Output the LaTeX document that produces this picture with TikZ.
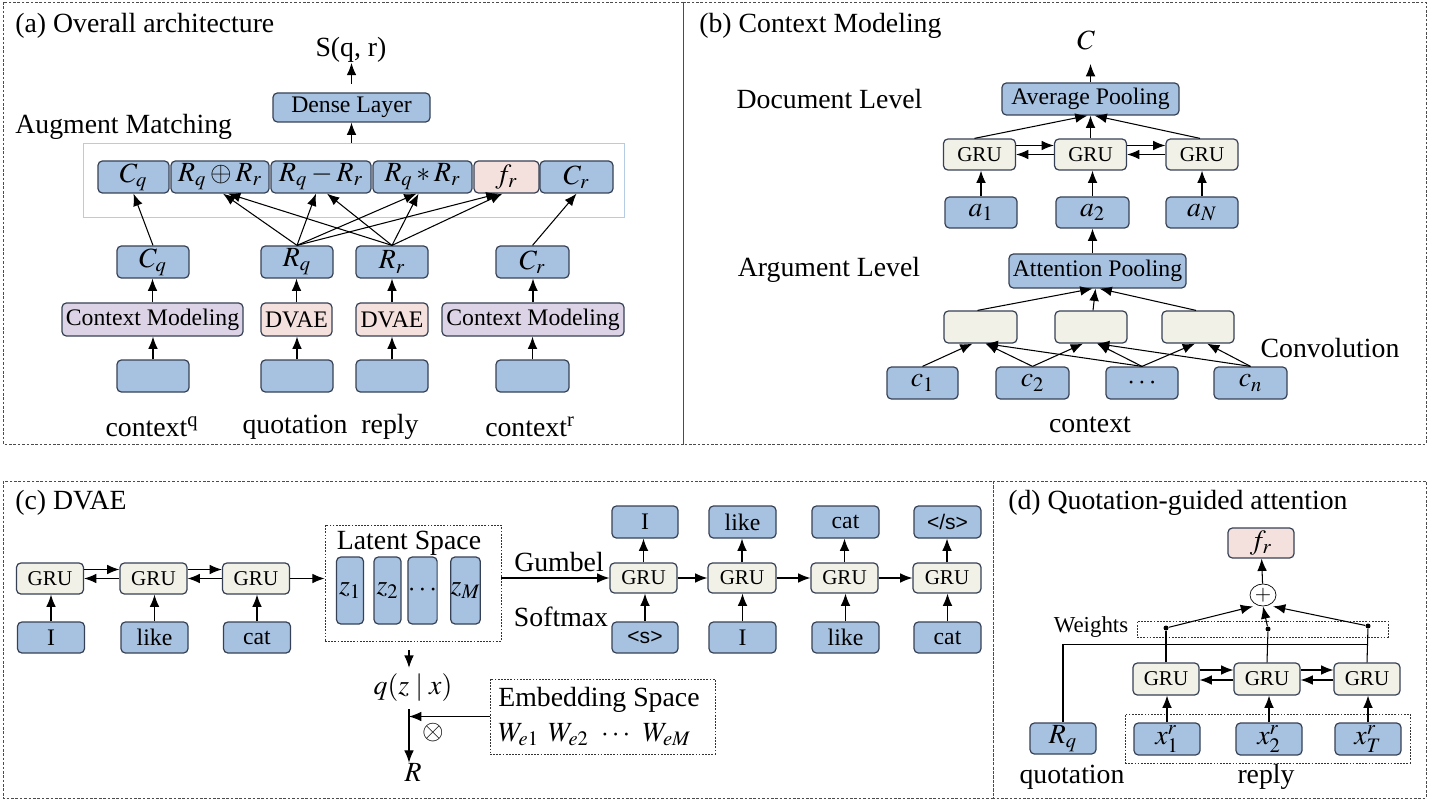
\documentclass[tikz,border=0pt]{standalone}
\usepackage{mathptmx}
\usepackage{fontspec}
\setmainfont{Liberation Serif}
\newfontfamily\arialf{Liberation Sans}
\usetikzlibrary{arrows.meta}
\usetikzlibrary{calc}
\usetikzlibrary{shapes.geometric}
\definecolor{blu}{RGB}{167,194,224}
\definecolor{bord}{RGB}{55,65,85}
\definecolor{beig}{RGB}{242,241,232}
\definecolor{pnk}{RGB}{244,225,221}
\definecolor{lav}{RGB}{220,212,230}
\definecolor{augb}{RGB}{180,205,228}
\tikzset{
wd/.style={minimum width=#1*0.02cm},
ht/.style={minimum height=#1*0.02cm},
blk/.style={draw=bord, fill=blu, rounded corners=2.5pt, inner sep=0pt, line width=0.7pt, font=\fontsize{13.5}{15}\selectfont},
gru/.style={blk, fill=beig, font=\fontsize{12}{14}\selectfont},
lbl/.style={inner sep=0pt, font=\fontsize{15.8}{18}\selectfont},
mth/.style={font=\fontsize{15.8}{18}\selectfont},
arr/.style={-{Latex[length=7pt,width=5.5pt]}, line width=0.6pt},
panel/.style={draw=black!70, dash pattern=on 1.5pt off 1pt, line width=0.5pt},
dotbox/.style={draw=black!80, dash pattern=on 1pt off 0.8pt, line width=0.5pt, inner sep=0pt},
dotn/.style={circle, fill=black, inner sep=0pt, minimum size=5*0.02cm},
}

\begin{document}
\begin{tikzpicture}[x=0.02cm, y=-0.02cm]
\useasboundingbox (0,0) rectangle (1429,800);
\draw[panel] (3,2) rectangle (683,444);
\draw[panel] (683,2) rectangle (1426,444);
\draw[panel] (3,481) rectangle (993,798);
\draw[panel] (993,481) rectangle (1426,798);

\node[lbl, anchor=west] (ta) at (15,26) {(a) Overall architecture};
\node[lbl] (sqr) at (351,50) {S(q, r)};
\node[blk, wd=157, ht=29] (dense) at (351.5,107.5) {Dense Layer};
\node[lbl, anchor=west] (augt) at (15,127) {Augment Matching};
\node[draw=augb, line width=0.5pt, inner sep=0pt, wd=541, ht=74] (aug) at (353.5,180) {};
\node[blk, mth, wd=71, ht=32] (cq) at (133.5,177) {$C_q$};
\node[blk, mth, wd=98, ht=32] (rpr) at (220,177) {$R_q \oplus R_r$};
\node[blk, mth, wd=100, ht=32] (rmr) at (321,177) {$R_q - R_r$};
\node[blk, mth, wd=99, ht=32] (rtr) at (422.5,177) {$R_q * R_r$};
\node[blk, mth, fill=pnk, wd=65, ht=32] (fr) at (506.5,177) {$f_r$};
\node[blk, mth, wd=73, ht=32] (cr) at (576.5,177) {$C_r$};
\node[blk, mth, wd=72, ht=32] (cqb) at (153,262) {$C_q$};
\node[blk, mth, wd=72, ht=32] (rqb) at (297,262) {$R_q$};
\node[blk, mth, wd=72, ht=32] (rrb) at (392,262) {$R_r$};
\node[blk, mth, wd=73, ht=32] (crb) at (532.5,262) {$C_r$};
\node[blk, fill=lav, wd=181, ht=33] (cm1) at (152.5,319.5) {Context Modeling};
\node[blk, fill=pnk, wd=71, ht=33] (dv1) at (296.5,319.5) {DVAE};
\node[blk, fill=pnk, wd=72, ht=33] (dv2) at (392,319.5) {DVAE};
\node[blk, fill=lav, wd=182, ht=33] (cm2) at (533,319.5) {Context Modeling};
\node[blk, wd=72, ht=32] (in1) at (153,376) {};
\node[blk, wd=72, ht=32] (in2) at (297,376) {};
\node[blk, wd=72, ht=32] (in3) at (392,376) {};
\node[blk, wd=73, ht=32] (in4) at (532.5,376) {};
\node[lbl] (ctxq) at (152,427) {context\textsuperscript{q}};
\node[lbl] (quot) at (295,427) {quotation};
\node[lbl] (rep) at (390,427) {reply};
\node[lbl] (ctxr) at (530,427) {context\textsuperscript{r}};
\draw[arr, shorten <=5pt] (dense.north) -- (dense.north |- sqr.south);
\draw[arr] (aug.north -| dense) -- (dense);
\foreach \a/\b in {in1/cm1, cm1/cqb, in2/dv1, dv1/rqb, in3/dv2, dv2/rrb, in4/cm2, cm2/crb}
  \draw[arr] (\a.north) -- (\a.north |- \b.south);
\draw[arr] (cqb.north) -- (cq.south);
\draw[arr] (crb.north) -- (cr.south);
\draw[arr] (rqb.north) -- ($(rpr.south)+(3,0)$);
\draw[arr] (rqb.north) -- ($(rmr.south)+(-5,0)$);
\draw[arr] (rqb.north) -- ($(rtr.south)+(-6,0)$);
\draw[arr] (rqb.north) -- ($(fr.south)+(-8,0)$);
\draw[arr] (rrb.north) -- ($(rpr.south)+(8,0)$);
\draw[arr] (rrb.north) -- ($(rmr.south)+(6,0)$);
\draw[arr] (rrb.north) -- ($(rtr.south)+(-4,0)$);
\draw[arr] (rrb.north) -- ($(fr.south)+(-4,0)$);

\node[lbl, anchor=west] (tb) at (699,26) {(b) Context Modeling};
\node[lbl] (cc) at (1086,40) {$C$};
\node[blk, wd=177, ht=32] (avg) at (1090.5,99) {Average Pooling};
\node[lbl] (docl) at (829.5,99) {Document Level};
\node[gru, wd=72, ht=31] (g1) at (979.5,154.5) {GRU};
\node[gru, wd=72, ht=31] (g2) at (1090.5,154.5) {GRU};
\node[gru, wd=72, ht=31] (g3) at (1202,154.5) {GRU};
\node[blk, mth, wd=72, ht=31] (a1) at (981,212.5) {$a_1$};
\node[blk, mth, wd=73, ht=31] (a2) at (1092.5,212.5) {$a_2$};
\node[blk, mth, wd=72, ht=31] (an) at (1202,212.5) {$a_N$};
\node[blk, wd=177, ht=34] (att) at (1097.5,271) {Attention Pooling};
\node[lbl] (argl) at (829,270) {Argument Level};
\node[gru, wd=73, ht=32] (v1) at (980.5,327) {};
\node[gru, wd=72, ht=32] (v2) at (1091,327) {};
\node[gru, wd=72, ht=32] (v3) at (1198,327) {};
\node[lbl] (conv) at (1330,348) {Convolution};
\node[blk, mth, wd=71, ht=32] (c1) at (922.5,383) {$c_1$};
\node[blk, mth, wd=73, ht=32] (c2) at (1032.5,383) {$c_2$};
\node[blk, mth, wd=72, ht=32] (c3) at (1142,383) {$\cdots$};
\node[blk, mth, wd=73, ht=32] (cn) at (1250.5,383) {$c_n$};
\node[lbl] (ctx) at (1090,425) {context};
\draw[arr, shorten >=8pt] (avg.north) -- (avg.north |- cc.south);
\draw[arr] ($(g1.north)+(-5,0)$) -- ($(avg.south)+(-3,0)$);
\draw[arr] (g2.north) -- (g2.north |- avg.south);
\draw[arr] ($(g3.north)+(-2,0)$) -- ($(avg.south)+(4,0)$);
\draw[arr] ($(g1.east)+(0,-9)$) -- ($(g2.west)+(0,-9)$);
\draw[arr] (g2.west) -- (g1.east);
\draw[arr] ($(g2.east)+(0,-9)$) -- ($(g3.west)+(0,-9)$);
\draw[arr] (g3.west) -- (g2.east);
\draw[arr] (a1.north) -- (a1.north |- g1.south);
\draw[arr] (a2.north) -- (a2.north |- g2.south);
\draw[arr] (an.north) -- (an.north |- g3.south);
\draw[arr] (a2.south |- att.north) -- (a2.south);
\draw[arr] ($(v1.north)+(-3,0)$) -- ($(att.south)+(-5,0)$);
\draw[arr] ($(v2.north)+(2,0)$) -- ($(att.south)+(-2,0)$);
\draw[arr] ($(v3.north)+(-2,0)$) -- ($(att.south)+(2,0)$);
\draw[arr] (c1.north) -- ($(v1.south)+(-8,0)$);
\draw[arr] (c2.north) -- ($(v1.south)+(5,0)$);
\draw[arr] (c3.north) -- ($(v1.south)+(5,0)$);
\draw[arr] (c2.north) -- ($(v2.south)+(-8,0)$);
\draw[arr] (c3.north) -- ($(v2.south)+(6,0)$);
\draw[arr] (cn.north) -- ($(v2.south)+(6,0)$);
\draw[arr] (c3.north) -- ($(v3.south)+(-3,0)$);
\draw[arr] (cn.north) -- ($(v3.south)+(9,0)$);

\node[lbl, anchor=west] (tc) at (15,503) {(c) DVAE};
\node[gru, wd=67, ht=31] (e1) at (50,578.5) {GRU};
\node[gru, wd=67, ht=31] (e2) at (153.5,578.5) {GRU};
\node[gru, wd=67, ht=31] (e3) at (256,578.5) {GRU};
\node[blk, wd=67, ht=31] (i1) at (51,637.5) {I};
\node[blk, wd=67, ht=31] (i2) at (154.5,637.5) {like};
\node[blk, wd=67, ht=31] (i3) at (257,637.5) {cat};
\node[dotbox, wd=176, ht=116] (lat) at (413,583) {};
\node[lbl] (latt) at (409,543) {Latent Space};
\node[blk, mth, wd=27, ht=67] (z1) at (350,590.5) {$z_1$};
\node[blk, mth, wd=27, ht=67] (z2) at (387.5,590.5) {$z_2$};
\node[blk, mth, wd=27, ht=67] (z3) at (422.5,590.5) {$\cdots$};
\node[blk, mth, wd=27, ht=67] (zm) at (465.5,590.5) {$z_M$};
\node[lbl] (gumb) at (559,562) {Gumbel};
\node[lbl] (soft) at (561,617) {Softmax};
\node[gru, wd=67, ht=30] (d1) at (643.5,578) {GRU};
\node[gru, wd=68, ht=30] (d2) at (742,578) {GRU};
\node[gru, wd=67, ht=30] (d3) at (844.5,578) {GRU};
\node[gru, wd=68, ht=30] (d4) at (947,578) {GRU};
\node[blk, wd=66, ht=32] (o1) at (645,522) {I};
\node[blk, wd=67, ht=32] (o2) at (742.5,522) {like};
\node[blk, wd=67, ht=32] (o3) at (845.5,522) {cat};
\node[blk, wd=67, ht=32] (o4) at (947.5,522) {\arialf\fontsize{12}{14}\selectfont </s>};
\node[blk, wd=66, ht=31] (n1) at (645,637.5) {\arialf\fontsize{12}{14}\selectfont <s>};
\node[blk, wd=67, ht=31] (n2) at (742.5,637.5) {I};
\node[blk, wd=67, ht=31] (n3) at (845.5,637.5) {like};
\node[blk, wd=67, ht=31] (n4) at (947.5,637.5) {cat};
\node[lbl] (qzx) at (413,688) {$q(z \mid x)$};
\node[lbl] (rr) at (413,772) {$R$};
\node[dotbox, wd=225, ht=75] (emb) at (602.5,716.5) {};
\node[lbl, anchor=west] (embt) at (498,700) {Embedding Space};
\node[lbl, anchor=west] (embw) at (498,735) {$W_{e1}\;\, W_{e2}\;\, \cdots\;\, W_{eM}$};
\node[lbl] (otm) at (433,733) {$\otimes$};
\coordinate (qd) at ($(qzx.south)+(-4,0)$);
\draw[arr] ($(e1.east)+(0,-9)$) -- ($(e2.west)+(0,-9)$);
\draw[arr] (e2.west) -- (e1.east);
\draw[arr] ($(e2.east)+(0,-9)$) -- ($(e3.west)+(0,-9)$);
\draw[arr] (e3.west) -- (e2.east);
\draw[arr] (i1.north) -- (i1.north |- e1.south);
\draw[arr] (i2.north) -- (i2.north |- e2.south);
\draw[arr] (i3.north) -- (i3.north |- e3.south);
\draw[arr] (e3) -- (e3 -| lat.west);
\draw[arr] (lat.east |- d1) -- (d1);
\draw[arr] (d1) -- (d2);
\draw[arr] (d2) -- (d3);
\draw[arr] (d3) -- (d4);
\draw[arr] (d1.north) -- (d1.north |- o1.south);
\draw[arr] (d2.north) -- (d2.north |- o2.south);
\draw[arr] (d3.north) -- (d3.north |- o3.south);
\draw[arr] (d4.north) -- (d4.north |- o4.south);
\draw[arr] (n1.north) -- (n1.north |- d1.south);
\draw[arr] (n2.north) -- (n2.north |- d2.south);
\draw[arr] (n3.north) -- (n3.north |- d3.south);
\draw[arr] (n4.north) -- (n4.north |- d4.south);
\draw[arr] ($(lat.south)+(-4,9)$) -- ($(qzx.north)+(-4,-6)$);
\draw[arr, shorten <=4pt] (qd) -- (qd |- rr.north);
\draw[arr] (emb.west) -- (emb.west -| qd);

\node[lbl, anchor=west] (tdd) at (1008,503) {(d) Quotation-guided attention};
\node[blk, mth, fill=pnk, wd=66, ht=30] (fr2) at (1261,543) {$f_r$};
\node[draw, ellipse, inner sep=0pt, wd=26, ht=22, font=\fontsize{12}{14}\selectfont] (plus) at (1263,595) {$+$};
\node[dotbox, wd=251, ht=16] (wts) at (1262.5,629) {};
\node[inner sep=0pt, font=\fontsize{13}{15}\selectfont] (wtst) at (1091,627) {Weights};
\node[dotn] (w1) at (1166,628) {};
\node[dotn] (w2) at (1268,629) {};
\node[dotn] (w3) at (1368,626) {};
\node[gru, wd=66, ht=32] (q1) at (1166,679) {GRU};
\node[gru, wd=66, ht=32] (q2) at (1267,679) {GRU};
\node[gru, wd=66, ht=32] (q3) at (1367,679) {GRU};
\node[dotbox, wd=285, ht=49] (repb) at (1267.5,738.5) {};
\node[blk, mth, wd=66, ht=32] (x1) at (1167,739) {$x_1^r$};
\node[blk, mth, wd=66, ht=32] (x2) at (1269,739) {$x_2^r$};
\node[blk, mth, wd=66, ht=32] (x3) at (1368,739) {$x_T^r$};
\node[blk, mth, wd=66, ht=31] (rq2) at (1063,738.5) {$R_q$};
\node[lbl] (quot2) at (1072,777) {quotation};
\node[lbl] (rep2) at (1266,777) {reply};
\draw[arr] (plus) -- (fr2);
\draw[arr] (w1) -- ($(plus.south)+(-10,0)$);
\draw[arr] (w2) -- (plus.south);
\draw[arr] (w3) -- ($(plus.south)+(10,0)$);
\draw[line width=0.6pt] (q1.north) -- (w1);
\draw[line width=0.6pt] (q2.north) -- (w2);
\draw[line width=0.6pt] (q3.north) -- (w3);
\draw[line width=0.6pt] (rq2.north) |- ($(q3.north)+(0,-18)$);
\draw[arr] ($(q1.east)+(0,-9)$) -- ($(q2.west)+(0,-9)$);
\draw[arr] ($(q2.west)+(0,1)$) -- ($(q1.east)+(0,1)$);
\draw[arr] ($(q2.east)+(0,-9)$) -- ($(q3.west)+(0,-9)$);
\draw[arr] ($(q3.west)+(0,1)$) -- ($(q2.east)+(0,1)$);
\draw[arr] (x1.north) -- (x1.north |- q1.south);
\draw[arr] (x2.north) -- (x2.north |- q2.south);
\draw[arr] (x3.north) -- (x3.north |- q3.south);
\end{tikzpicture}
\end{document}
